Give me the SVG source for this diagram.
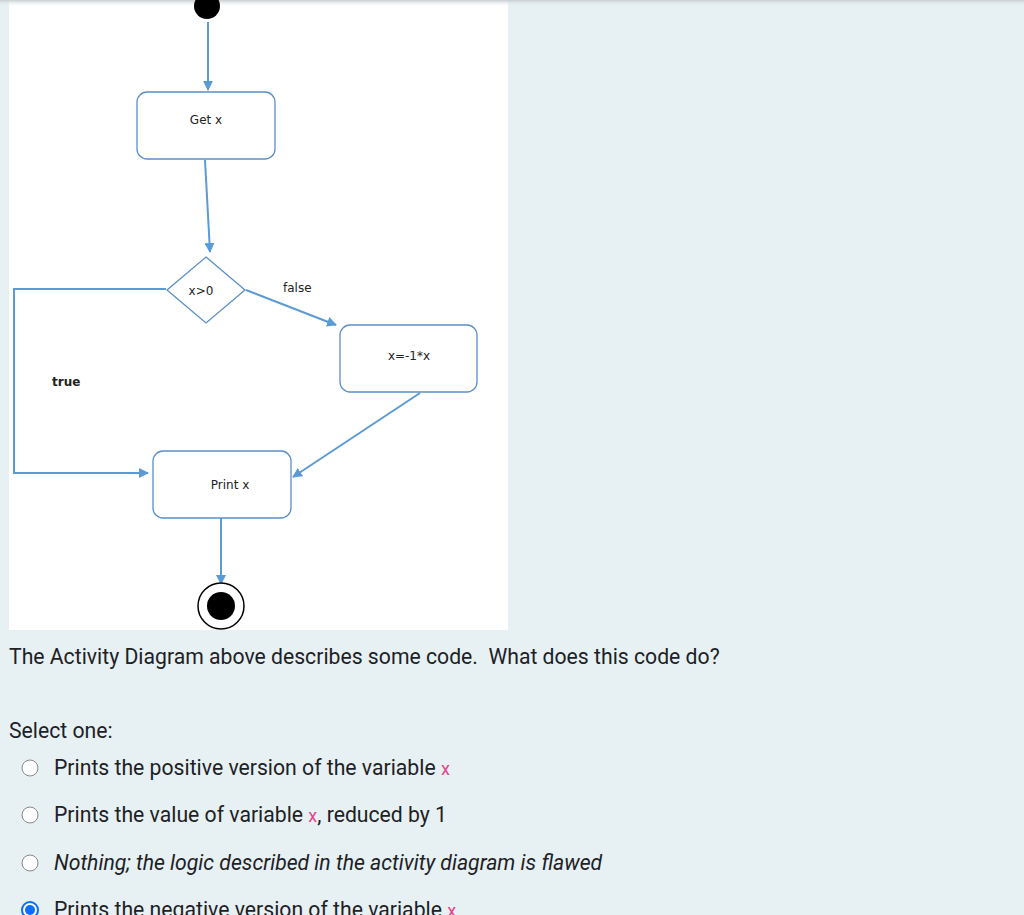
<svg xmlns="http://www.w3.org/2000/svg" width="1024" height="915" viewBox="0 0 1024 915">
<defs>
<style>
.n{fill:#fff;stroke:#5b8fc7;stroke-width:1.3}
.c{fill:none;stroke:#5b9bd5;stroke-width:2}
.t{font-family:"DejaVu Sans",sans-serif;font-size:12px;fill:#222}
.q{font-family:Roboto,"Liberation Sans",sans-serif;font-size:21.2px;fill:#1d2125}
.x{fill:#e83e8c;font-size:18px}
.r{fill:#fff;stroke:#888;stroke-width:1}
</style>
<marker id="a" viewBox="0 0 10 10" refX="9" refY="5" markerWidth="5" markerHeight="5" orient="auto"><path d="M0,0L10,5L0,10z" fill="#5b9bd5"/></marker>
<linearGradient id="sh" x1="0" y1="0" x2="0" y2="1"><stop offset="0" stop-color="#c9cdd0"/><stop offset="1" stop-color="#e7f1f4" stop-opacity="0"/></linearGradient>
</defs>
<rect width="1024" height="915" fill="#e7f1f4"/>
<rect x="9" y="0" width="499" height="630" fill="#fff"/>
<rect x="0" y="0" width="1024" height="6" fill="url(#sh)"/>
<g id="connectors">
<line class="c" x1="208" y1="22" x2="208" y2="90" marker-end="url(#a)"/>
<path class="c" d="M205,160 L210,252" stroke-width="3" marker-end="url(#a)"/>
<path class="c" d="M166,289 H14 V473 H148" marker-end="url(#a)"/>
<path class="c" d="M246,290 L336,325" stroke-width="2.5" marker-end="url(#a)"/>
<line class="c" x1="420" y1="393" x2="293" y2="477" marker-end="url(#a)"/>
<line class="c" x1="221" y1="518" x2="221" y2="584" stroke-width="2.5" marker-end="url(#a)"/>
</g>
<g id="start"><circle cx="207" cy="6" r="13" fill="#000"/></g>
<g id="getx"><rect class="n" x="137" y="92" width="138" height="67" rx="10"/><text class="t" x="206" y="124" text-anchor="middle">Get x</text></g>
<g id="decision"><polygon class="n" points="206,257 245,290 206,323 167,290"/><text class="t" x="201" y="295" text-anchor="middle">x&gt;0</text></g>
<text class="t" x="283" y="292">false</text>
<text class="t" x="52" y="386" font-weight="bold" fill="#000">true</text>
<g id="neg"><rect class="n" x="340" y="325" width="137" height="67" rx="10"/><text class="t" x="409" y="360" text-anchor="middle">x=-1*x</text></g>
<g id="print"><rect class="n" x="153" y="451" width="138" height="67" rx="10"/><text class="t" x="230" y="489" text-anchor="middle">Print x</text></g>
<g id="end"><circle cx="221" cy="606" r="23" fill="#fff" stroke="#000" stroke-width="1.5"/><circle cx="221" cy="606" r="14" fill="#000"/></g>
<text class="q" x="9" y="664" xml:space="preserve">The Activity Diagram above describes some code.  What does this code do?</text>
<text class="q" x="9" y="738">Select one:</text>
<circle class="r" cx="30" cy="768" r="8"/>
<text class="q" x="54" y="775">Prints the positive version of the variable <tspan class="x">x</tspan></text>
<circle class="r" cx="30" cy="815" r="8"/>
<text class="q" x="54" y="822">Prints the value of variable <tspan class="x">x</tspan>, reduced by 1</text>
<circle class="r" cx="30" cy="863" r="8"/>
<text class="q" x="54" y="870" font-style="italic">Nothing; the logic described in the activity diagram is flawed</text>
<circle cx="30" cy="910" r="8" fill="#fff" stroke="#0b6efd" stroke-width="2"/><circle cx="30" cy="910" r="5" fill="#0b6efd"/>
<text class="q" x="54" y="917">Prints the negative version of the variable <tspan class="x">x</tspan></text>
</svg>
